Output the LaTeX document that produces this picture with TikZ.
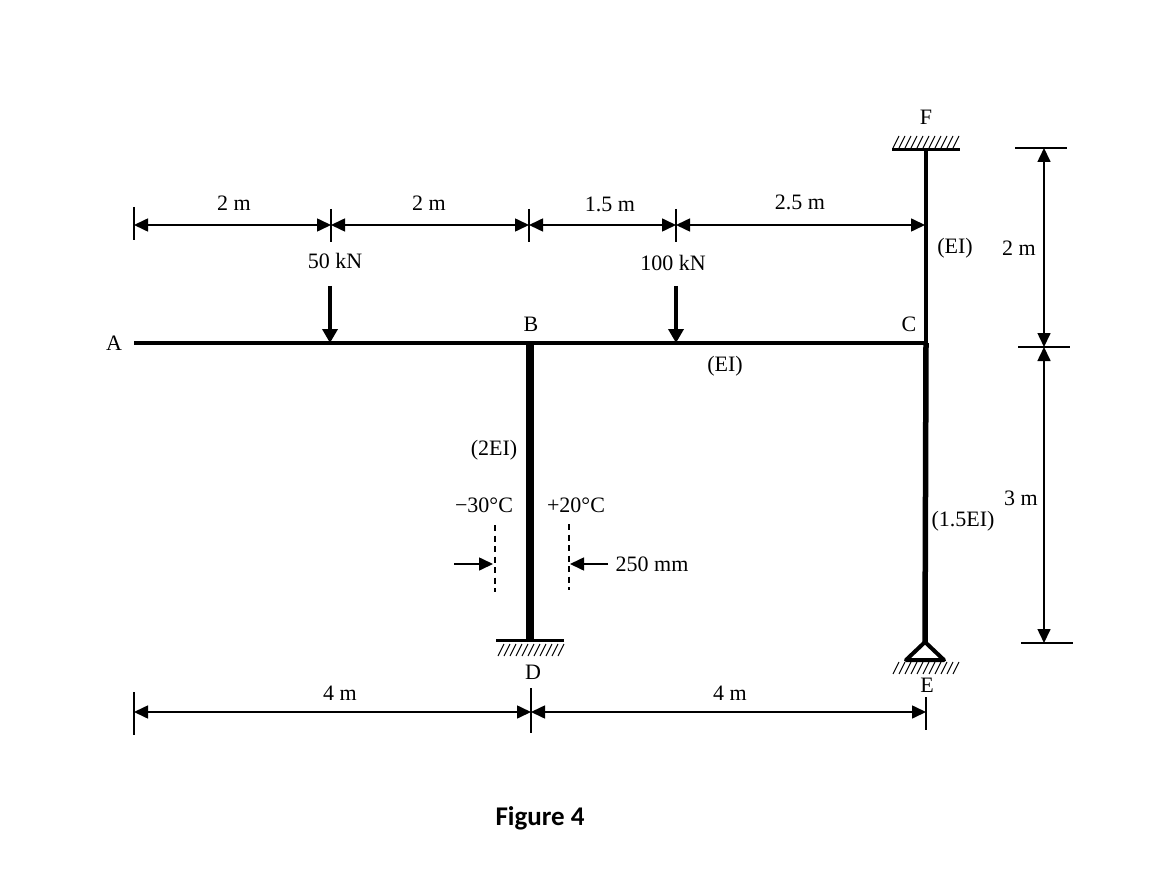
\documentclass[tikz,border=0pt]{standalone}
\usepackage{fontspec}
\setmainfont{Liberation Serif}
\newfontfamily\capfont{Carlito}
\usetikzlibrary{arrows.meta}
\tikzset{
  lbl/.style={inner sep=0pt,font=\fontsize{22}{24}\selectfont},
  figcaption/.style={inner sep=0pt,font=\capfont\bfseries\fontsize{27}{30}\selectfont},
  dimline/.style={line width=1.6pt,{Triangle[length=14pt,width=13pt]}-{Triangle[length=14pt,width=13pt]}},
  dimtick/.style={line width=1.6pt},
  member/.style={line cap=butt,black},
  loadarrow/.style={line width=4pt,-{Triangle[length=14pt,width=15pt]}},
  lead/.style={line width=1.6pt,-{Triangle[length=14pt,width=13pt]}},
  dashline/.style={line width=1.6pt,dash pattern=on 6pt off 4.5pt},
  hatchline/.style={line width=1pt},
  ground/.style={line width=3pt}
}
\begin{document}
\begin{tikzpicture}[x=1pt,y=-1pt]
\useasboundingbox[fill=white] (0,0) rectangle (1166,890);
% joints
\coordinate (A) at (134,343);
\coordinate (P1) at (330,343);
\coordinate (B) at (530,343);
\coordinate (P2) at (676,343);
\coordinate (C) at (926,343);
\coordinate (D) at (530,640);
\coordinate (E) at (925,642);
\coordinate (F) at (926,150);
% hatching
\foreach \x in {893,899,...,953}{\draw[hatchline] (\x,148) -- (\x+6,136);}
\foreach \x in {498,504,...,558}{\draw[hatchline] (\x,656) -- (\x+6,644);}
\foreach \x in {893,899,...,953}{\draw[hatchline] (\x,674) -- (\x+6,662);}
% members
\draw[member,line width=3.6pt] (F) -- (C);
\draw[member,line width=5.5pt] (C) -- (E);
\draw[member,line width=7.5pt] (B) -- (D);
\draw[member,line width=4pt] (A) -- (C);
% supports
\coordinate (Fl) at (892,150); \coordinate (Fr) at (960,150);
\coordinate (Dl) at (496,640); \coordinate (Dr) at (564,640);
\draw[ground] (Fl) -- (Fr);
\draw[ground] (Dl) -- (Dr);
\coordinate (El) at (906,660); \coordinate (Er) at (944,660);
\draw[line width=4pt,fill=white,line join=round] (E) -- (Er) -- (El) -- cycle;
% top dimension
\coordinate (t0) at (134,225); \coordinate (t1) at (331,225); \coordinate (t2) at (529,225);
\coordinate (t3) at (676,225); \coordinate (t4) at (925,225);
\draw[dimtick] (134,207) -- (134,240);
\draw[dimtick] (331,209) -- (331,242);
\draw[dimtick] (529,209) -- (529,242);
\draw[dimtick] (676,209) -- (676,242);
\draw[dimline] (t0) -- (t1);
\draw[dimline] (t1) -- (t2);
\draw[dimline] (t2) -- (t3);
\draw[dimline] (t3) -- (t4);
% right dimension
\coordinate (r0) at (1044,148); \coordinate (r1) at (1044,347); \coordinate (r2) at (1044,643);
\draw[dimtick] (1015,148) -- (1067,148);
\draw[dimtick] (1018,347) -- (1070,347);
\draw[dimtick] (1021,643) -- (1073,643);
\draw[dimline] (r0) -- (r1);
\draw[dimline] (r1) -- (r2);
% bottom dimension
\coordinate (b0) at (134,712); \coordinate (b1) at (531,712); \coordinate (b2) at (926,712);
\draw[dimtick] (134,692) -- (134,735);
\draw[dimtick] (531,688) -- (531,733);
\draw[dimtick] (926,697) -- (926,730);
\draw[dimline] (b0) -- (b1);
\draw[dimline] (b1) -- (b2);
% loads
\coordinate (L1) at (330,286); \coordinate (L2) at (676,286);
\draw[loadarrow] (L1) -- (P1);
\draw[loadarrow] (L2) -- (P2);
% temperature offsets
\draw[dashline] (495,525) -- (495,592);
\draw[dashline] (569,524) -- (569,590);
\coordinate (o1) at (454,564); \coordinate (o1e) at (493,564);
\coordinate (o2) at (608,564); \coordinate (o2e) at (570,564);
\draw[lead] (o1) -- (o1e);
\draw[lead] (o2) -- (o2e);
% labels
\node[lbl] (lF) at (926,117) {F};
\node[lbl] (lA) at (114,343) {A};
\node[lbl] (lB) at (531,324) {B};
\node[lbl] (lC) at (909,324) {C};
\node[lbl] (lD) at (533,672) {D};
\node[lbl] (lE) at (927,685) {E};
\node[lbl] (ei1) at (955,248) {(EI)};
\node[lbl] (h2) at (1019,248) {2 m};
\node[lbl] (f1) at (335,261) {50 kN};
\node[lbl] (f2) at (673,263) {100 kN};
\node[lbl] (ei2) at (725,366) {(EI)};
\node[lbl] (ei3) at (494,450) {(2EI)};
\node[lbl] (t1l) at (484,505) {−30°C};
\node[lbl] (t2l) at (576,505) {+20°C};
\node[lbl] (mm) at (652,564) {250 mm};
\node[lbl] (ei4) at (963,521) {(1.5EI)};
\node[lbl] (h3) at (1021,498) {3 m};
\node[lbl] (d1) at (234,203) {2 m};
\node[lbl] (d2) at (429,203) {2 m};
\node[lbl] (d3) at (610,204) {1.5 m};
\node[lbl] (d4) at (800,202) {2.5 m};
\node[lbl] (d5) at (340,693) {4 m};
\node[lbl] (d6) at (730,693) {4 m};
\node[figcaption] (fig) at (540,818) {Figure 4};
\end{tikzpicture}
\end{document}
